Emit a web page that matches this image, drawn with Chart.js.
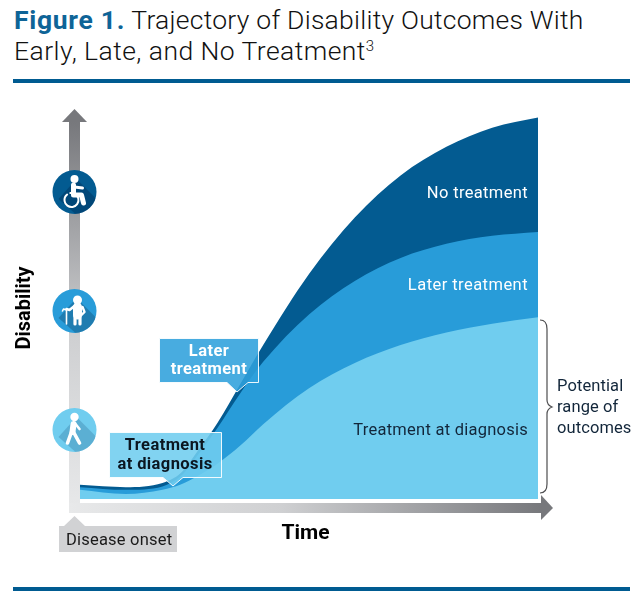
<!DOCTYPE html>
<html><head><meta charset="utf-8">
<title>Trajectory of Disability Outcomes</title>
<script src="https://cdn.jsdelivr.net/npm/chart.js@4"></script>
<style>
html,body{margin:0;padding:0;background:#fff;width:637px;height:593px;overflow:hidden}
#wrap{position:relative;width:637px;height:593px}
canvas{position:absolute;left:0;top:0}
#title{position:absolute;left:14px;top:4px;font:300 26.5px/31px Roboto,sans-serif;color:#111;letter-spacing:.25px;white-space:nowrap}
#title b{font-weight:700;color:#0e6497;letter-spacing:.7px}
#title span{letter-spacing:.45px}
#title sup{font-size:15px;line-height:0;vertical-align:9px}
.rule{position:absolute;left:13px;width:617px;height:4px;background:#005b91}
</style></head><body>
<div id="wrap">
<div id="title"><b>Figure 1.</b> Trajectory of Disability Outcomes With<br><span>Early, Late, and No Treatment</span><sup>3</sup></div>
<div class="rule" style="top:79px"></div>
<canvas id="c" width="637" height="593"></canvas>
<div class="rule" style="top:587px"></div>
</div>
<script>
const time = [0,10,18,22,26,30,35,40,50,60,70,80,90,100];
const noTreatment = [3.7,3.1,4.2,6.8,13.1,19.9,30.1,40.3,58.9,73.7,84.7,92.2,97.2,99.9];
const laterTreatment = [3.1,2.4,3.3,6.0,12.0,18.6,27.7,35.9,48.3,57.1,63.1,66.8,68.9,69.9];
const treatmentAtDiagnosis = [2.4,1.3,2.4,3.8,6.2,9.2,14.0,19.6,29.0,35.6,40.3,43.6,45.9,47.6];
const seriesNames = ['Treatment at diagnosis','Later treatment','No treatment'];
const xAxisTitle = 'Time', yAxisTitle = 'Disability';
const onsetLabel = 'Disease onset';
const rangeLabel = ['Potential','range of','outcomes'];
const calloutLater = ['Later','treatment'];
const calloutDiagnosis = ['Treatment','at diagnosis'];

const DARK='#035b91', MID='#289cd9', LIGHT='#70cdef';
const FONT='Roboto, sans-serif';

function toPts(vals){return vals.map((v,i)=>({x:time[i],y:v}));}
function ds(label,vals,color){return {label,data:toPts(vals),backgroundColor:color,borderColor:color,borderWidth:0,pointRadius:0,fill:'origin',cubicInterpolationMode:'monotone'};}

function text(ctx,s,x,y,font,color,align,sp){
  ctx.font=font;ctx.fillStyle=color;ctx.textAlign=align||'left';ctx.textBaseline='alphabetic';
  ctx.letterSpacing=(sp||0)+'px';ctx.fillText(s,x,y);ctx.letterSpacing='0px';
}
function poly(ctx,p,fill){ctx.beginPath();p.forEach((q,i)=>i?ctx.lineTo(q[0],q[1]):ctx.moveTo(q[0],q[1]));ctx.closePath();ctx.fillStyle=fill;ctx.fill();}

function iconBase(ctx,cx,cy,color,shadow){
  ctx.save();
  ctx.beginPath();ctx.arc(cx,cy,22,0,Math.PI*2);ctx.fillStyle=color;ctx.fill();ctx.clip();
  poly(ctx,[[cx+2,cy-13],[cx+34,cy+19],[cx+17,cy+36],[cx-16,cy+7]],shadow);
  ctx.restore();
}
function line(ctx,pts,w){ctx.beginPath();pts.forEach((q,i)=>i?ctx.lineTo(q[0],q[1]):ctx.moveTo(q[0],q[1]));ctx.lineWidth=w;ctx.lineCap='round';ctx.lineJoin='round';ctx.strokeStyle='#fff';ctx.stroke();}
function dot(ctx,x,y,r){ctx.beginPath();ctx.arc(x,y,r,0,Math.PI*2);ctx.fillStyle='#fff';ctx.fill();}

function wheelchair(ctx,cx,cy){
  iconBase(ctx,cx,cy,'#035b91','rgba(0,40,80,.38)');
  dot(ctx,cx,cy-13,4);
  line(ctx,[[cx-1,cy-7],[cx-1,cy+3],[cx+7,cy+3],[cx+9,cy+11]],5);
  line(ctx,[[cx,cy-5],[cx+8,cy-4]],3);
  ctx.beginPath();ctx.arc(cx-3,cy+8,7,Math.PI*-0.55,Math.PI*1.0+0.9);ctx.lineWidth=2;ctx.strokeStyle='#fff';ctx.stroke();
}
function elder(ctx,cx,cy){
  iconBase(ctx,cx,cy,'#289cd9','rgba(20,80,120,.42)');
  dot(ctx,cx+3,cy-11,4.5);
  line(ctx,[[cx+3,cy-4],[cx+3,cy+4]],9);
  line(ctx,[[cx+0.5,cy+4],[cx+0.5,cy+13]],3.2);
  line(ctx,[[cx+5.5,cy+4],[cx+5.5,cy+13]],3.2);
  line(ctx,[[cx,cy-5],[cx-5,cy-1],[cx-8,cy-2]],2.6);
  line(ctx,[[cx+8,cy-4],[cx+10,cy+1],[cx+7,cy+4]],2.4);
  line(ctx,[[cx-8,cy-1],[cx-8,cy+13]],1.6);
  line(ctx,[[cx-8,cy-1],[cx-11,cy-2],[cx-12,cy]],1.6);
}
function walker(ctx,cx,cy){
  iconBase(ctx,cx,cy,'#70cdef','rgba(60,130,170,.4)');
  dot(ctx,cx,cy-13,4.2);
  line(ctx,[[cx-1,cy-6],[cx-2,cy+2]],6);
  line(ctx,[[cx-3,cy+2],[cx-7,cy+13]],3.6);
  line(ctx,[[cx-1,cy+2],[cx+5,cy+13]],3.6);
  line(ctx,[[cx+1,cy-6],[cx+5,cy-1]],2.6);
}
function callout(ctx,x0,y0,x1,y1,tipX,tipY,b0,b1,fill){
  ctx.save();
  ctx.beginPath();
  ctx.moveTo(x0,y0);ctx.lineTo(x1,y0);ctx.lineTo(x1,y1);ctx.lineTo(b1,y1);ctx.lineTo(tipX,tipY);ctx.lineTo(b0,y1);ctx.lineTo(x0,y1);ctx.closePath();
  ctx.fillStyle=fill;ctx.fill();
  ctx.lineWidth=1;ctx.strokeStyle='rgba(255,255,255,.9)';ctx.stroke();
  ctx.restore();
}

const deco={
  id:'deco',
  beforeDraw(chart){
    // the reference centres "Time" a little left of the plot centre
    chart.scales.x.left=73;
  },
  beforeDatasetsDraw(chart){
    const ctx=chart.ctx;
    ctx.save();
    let g=ctx.createLinearGradient(0,122,0,513);g.addColorStop(0,'#77787c');g.addColorStop(.55,'#cfd0d2');g.addColorStop(1,'#e8e9ea');
    ctx.fillStyle=g;ctx.fillRect(69,120,11,393);
    poly(ctx,[[74.5,109],[87,122],[62,122]],'#77787c');
    g=ctx.createLinearGradient(69,0,541,0);g.addColorStop(0,'#e8e9ea');g.addColorStop(.45,'#cfd0d2');g.addColorStop(1,'#77787c');
    ctx.fillStyle=g;ctx.fillRect(69,503,473,10);
    poly(ctx,[[553,508],[541,495],[541,520]],'#77787c');
    poly(ctx,[[74.5,516],[85,526],[177,526],[177,552],[59,552],[59,526],[64,526]],'#d1d2d4');
    text(ctx,onsetLabel,66,545,'400 16.5px '+FONT,'#1a1a1a','left',.2);
    wheelchair(ctx,74.5,192);elder(ctx,74.5,311);walker(ctx,74.5,430);
    ctx.restore();
  },
  afterDatasetsDraw(chart){
    const ctx=chart.ctx;
    ctx.save();
    const lf='400 16.5px '+FONT;
    text(ctx,seriesNames[2],528,198,lf,'#fff','right',.35);
    text(ctx,seriesNames[1],528,290,lf,'#fff','right',.45);
    text(ctx,seriesNames[0],528,435,lf,'#12263a','right',.25);
    ctx.beginPath();
    ctx.moveTo(540,320);ctx.quadraticCurveTo(547,320,547,329);ctx.lineTo(547,400);
    ctx.quadraticCurveTo(547,405,552,407);ctx.quadraticCurveTo(547,409,547,414);
    ctx.lineTo(547,484);ctx.quadraticCurveTo(547,493,540,493);
    ctx.lineWidth=1.2;ctx.strokeStyle='#4d4d4f';ctx.stroke();
    rangeLabel.forEach((s,i)=>text(ctx,s,557,391+i*21,'400 16.5px '+FONT,'#12263a','left',.1));
    callout(ctx,159.5,338.5,258.5,382.5,237,392,227,248,'rgba(47,160,220,.88)');
    const bf='700 16.5px '+FONT;
    text(ctx,calloutLater[0],209,356,bf,'#fff','center',.4);
    text(ctx,calloutLater[1],209,374,bf,'#fff','center',.4);
    callout(ctx,109.5,432.5,221.5,477.5,173,486,163,183,'rgba(112,205,239,.88)');
    text(ctx,calloutDiagnosis[0],165,450,bf,'#0b1620','center',.4);
    text(ctx,calloutDiagnosis[1],165,469,bf,'#0b1620','center',.4);
    ctx.restore();
  }
};

new Chart(document.getElementById('c'),{
  type:'line',
  data:{datasets:[
    ds(seriesNames[0],treatmentAtDiagnosis,LIGHT),
    ds(seriesNames[1],laterTreatment,MID),
    ds(seriesNames[2],noTreatment,DARK)
  ]},
  options:{
    responsive:false,animation:false,
    layout:{padding:{top:117,right:99,left:0,bottom:0}},
    plugins:{legend:{display:false},title:{display:false},tooltip:{enabled:false}},
    scales:{
      x:{type:'linear',min:0,max:100,grid:{display:false},border:{display:false},ticks:{display:false},
        title:{display:true,text:xAxisTitle,color:'#000',font:{family:FONT,size:21,weight:'700'},padding:{top:0,bottom:47}},
        afterFit(s){s.height=94;}},
      y:{min:0,max:100,grid:{display:false},border:{display:false},ticks:{display:false},
        title:{display:true,text:yAxisTitle,color:'#000',font:{family:FONT,size:20,weight:'700'},padding:{top:13,bottom:0}},
        afterFit(s){s.width=80;}}
    }
  },
  plugins:[deco]
});
</script>
</body></html>
